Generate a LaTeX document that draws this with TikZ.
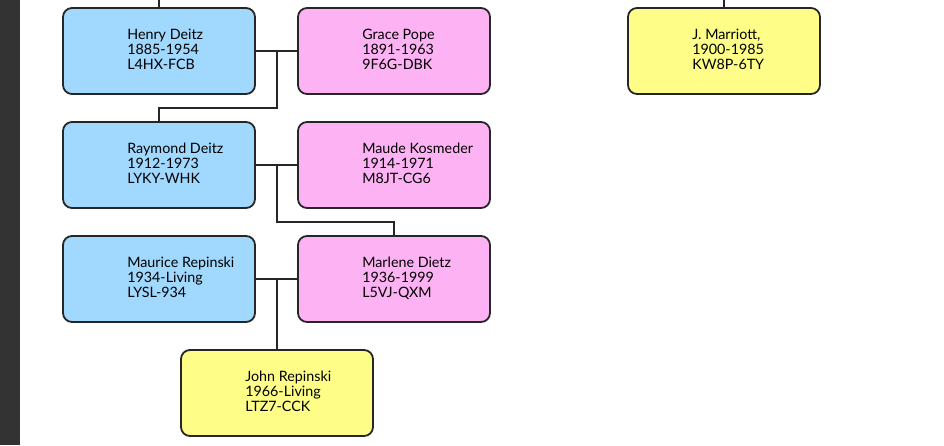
\documentclass[tikz,border=0pt]{standalone}
\usepackage{fontspec}
\setmainfont{Lato}
\usetikzlibrary{positioning}
\definecolor{male}{HTML}{A1D8FD}
\definecolor{female}{HTML}{FDB3F3}
\definecolor{other}{HTML}{FDFD87}
\definecolor{bar}{HTML}{333333}
\tikzset{
  person/.style={draw=black!85,line width=1.8pt,rounded corners=9pt,minimum width=192pt,minimum height=86pt,inner sep=0pt},
  info/.style={anchor=north west,inner sep=0pt,align=left,font=\fontsize{14.3}{15}\selectfont},
  link/.style={draw=black!85,line width=2.4pt}
}
\newcommand{\person}[4]{%
  \node[person,fill=#3] (#1) at (#2) {};
  \node[info] (#1-t) at ([xshift=65pt,yshift=-21.5pt]#1.north west) {#4};}
\begin{document}
\begin{tikzpicture}[x=1pt,y=1pt]
  \useasboundingbox (0,0) rectangle (944,445);
  \fill[bar] (0,0) rectangle (20,445);
  \person{henry}{159,394}{male}{Henry Deitz\\1885-1954\\L4HX-FCB}
  \person{grace}{394,394}{female}{Grace Pope\\1891-1963\\9F6G-DBK}
  \person{marriott}{724,394}{other}{J. Marriott,\\1900-1985\\KW8P-6TY}
  \person{raymond}{159,280}{male}{Raymond Deitz\\1912-1973\\LYKY-WHK}
  \person{maude}{394,280}{female}{Maude Kosmeder\\1914-1971\\M8JT-CG6}
  \person{maurice}{159,166}{male}{Maurice Repinski\\1934-Living\\LYSL-934}
  \person{marlene}{394,166}{female}{Marlene Dietz\\1936-1999\\L5VJ-QXM}
  \person{john}{277,52}{other}{John Repinski\\1966-Living\\LTZ7-CCK}
  \coordinate (henry-up) at (henry.north |- 0,445);
  \coordinate (marriott-up) at (marriott.north |- 0,445);
  \coordinate (c1) at (277,394);
  \coordinate (c2) at (277,280);
  \coordinate (c3) at (277,166);
  \path[link] (henry.north) -- (henry-up);
  \path[link] (marriott.north) -- (marriott-up);
  \path[link] (henry) -- (grace);
  \path[link] (c1) |- (277,337) -| (raymond.north);
  \path[link] (raymond) -- (maude);
  \path[link] (c2) |- (277,223) -| (marlene.north);
  \path[link] (maurice) -- (marlene);
  \path[link] (c3) -- (john.north);
\end{tikzpicture}
\end{document}
